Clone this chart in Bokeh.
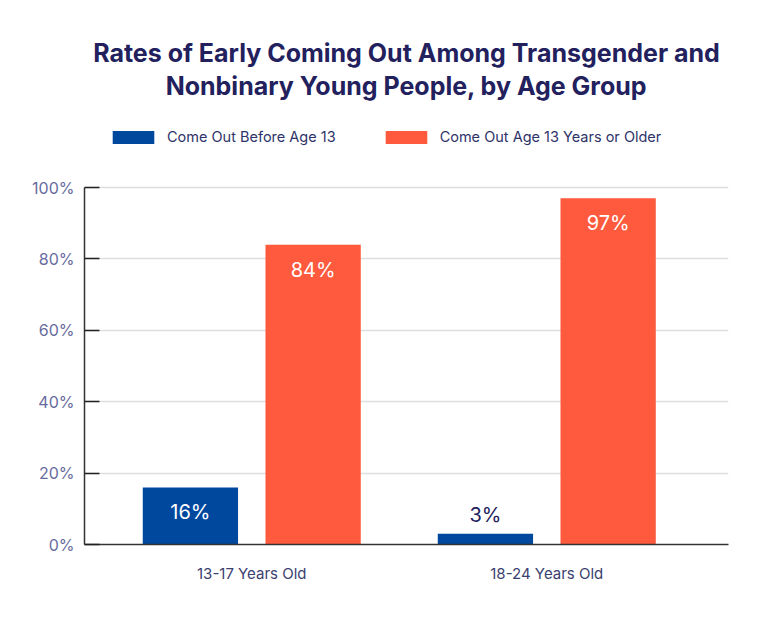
from bokeh.embed import file_html
from bokeh.resources import INLINE
from bokeh.plotting import figure
from bokeh.models import (ColumnDataSource, Range1d, FixedTicker, PrintfTickFormatter,
                          Legend, LegendItem, Title)
from bokeh.transform import dodge
from bokeh.core.properties import value

# data
groups = ["13-17 Years Old", "18-24 Years Old"]
before_13 = [16, 3]
age_13_or_older = [84, 97]
series_names = ["Come Out Before Age 13", "Come Out Age 13 Years or Older"]
y_ticks = [0, 20, 40, 60, 80, 100]

BLUE = "#00479e"
ORANGE = "#ff5a3d"
NAVY = "#22215e"
FONT = "Inter"

idx = list(range(len(groups)))
src = ColumnDataSource(data=dict(x=idx, before=before_13, older=age_13_or_older))

# the frame reaches above 100% so the legend can sit inside it
p = figure(width=760, height=620, output_backend="svg", toolbar_location=None,
           title=None, x_range=Range1d(-0.567, 1.616), y_range=Range1d(0, 124.4),
           min_border_left=84, min_border_right=32, min_border_top=100,
           min_border_bottom=76)
p.outline_line_color = None
p.background_fill_color = "white"
p.border_fill_color = "white"

bw = 0.323
off = 0.208
r1 = p.vbar(x=dodge("x", -off), top="before", width=bw, source=src,
            fill_color=BLUE, line_color=None)
r2 = p.vbar(x=dodge("x", off), top="older", width=bw, source=src,
            fill_color=ORANGE, line_color=None)

# value labels: inside the bar when it is tall enough, above it otherwise
for vals, shift in ((before_13, -off), (age_13_or_older, off)):
    inside = ColumnDataSource(data=dict(
        x=[x for x, v in zip(idx, vals) if v > 10],
        y=[v for v in vals if v > 10],
        t=[f"{v}%" for v in vals if v > 10]))
    outside = ColumnDataSource(data=dict(
        x=[x for x, v in zip(idx, vals) if v <= 10],
        y=[v for v in vals if v <= 10],
        t=[f"{v}%" for v in vals if v <= 10]))
    p.text(x=dodge("x", shift), y="y", text="t", source=inside, y_offset=25,
           text_align="center", text_baseline="middle", text_color="white",
           text_font=value(FONT), text_font_size="20px")
    p.text(x=dodge("x", shift), y="y", text="t", source=outside, y_offset=-19,
           text_align="center", text_baseline="middle", text_color=NAVY,
           text_font=value(FONT), text_font_size="20px")

# axes
p.xaxis.ticker = FixedTicker(ticks=idx)
p.xaxis.major_label_overrides = {i: g for i, g in zip(idx, groups)}
p.xaxis.major_tick_line_color = None
p.xaxis.minor_tick_line_color = None
p.xaxis.axis_line_color = "#333333"
p.xaxis.axis_line_width = 1.5
p.xaxis.major_label_text_font = FONT
p.xaxis.major_label_text_font_size = "15px"
p.xaxis.major_label_text_color = "#3b3f6f"
p.xaxis.major_label_standoff = 13

p.yaxis.ticker = FixedTicker(ticks=y_ticks)
p.yaxis.bounds = (0, 100)
p.yaxis.formatter = PrintfTickFormatter(format="%d%%")
p.yaxis.axis_line_color = "#333333"
p.yaxis.axis_line_width = 1.5
p.yaxis.major_tick_in = 15
p.yaxis.major_tick_out = 0
p.yaxis.major_tick_line_color = "#222222"
p.yaxis.major_tick_line_width = 1.5
p.yaxis.minor_tick_line_color = None
p.yaxis.major_label_text_font = FONT
p.yaxis.major_label_text_font_size = "16px"
p.yaxis.major_label_text_color = "#676b9e"
p.yaxis.major_label_standoff = 10

p.xgrid.grid_line_color = None
p.ygrid.grid_line_color = "#dedede"
p.ygrid.grid_line_width = 1.5

legend = Legend(items=[LegendItem(label=series_names[0], renderers=[r1]),
                       LegendItem(label=series_names[1], renderers=[r2])],
                orientation="horizontal", location=(23, 399),
                glyph_width=52, glyph_height=16, label_standoff=8, spacing=44,
                padding=0, margin=0, border_line_color=None,
                background_fill_alpha=0,
                label_text_font=FONT, label_text_font_size="14.5px",
                label_text_color="#2e3368")
p.add_layout(legend)

# two-line title, bottom line added first so it sits nearest the plot
p.add_layout(Title(text="Nonbinary Young People, by Age Group", align="center",
                   text_font=FONT, text_font_size="25px", text_font_style="bold",
                   text_color=NAVY, standoff=0), "above")
p.add_layout(Title(text="Rates of Early Coming Out Among Transgender and", align="center",
                   text_font=FONT, text_font_size="25px", text_font_style="bold",
                   text_color=NAVY, standoff=1), "above")

open("out.html", "w").write(file_html(p, INLINE))
